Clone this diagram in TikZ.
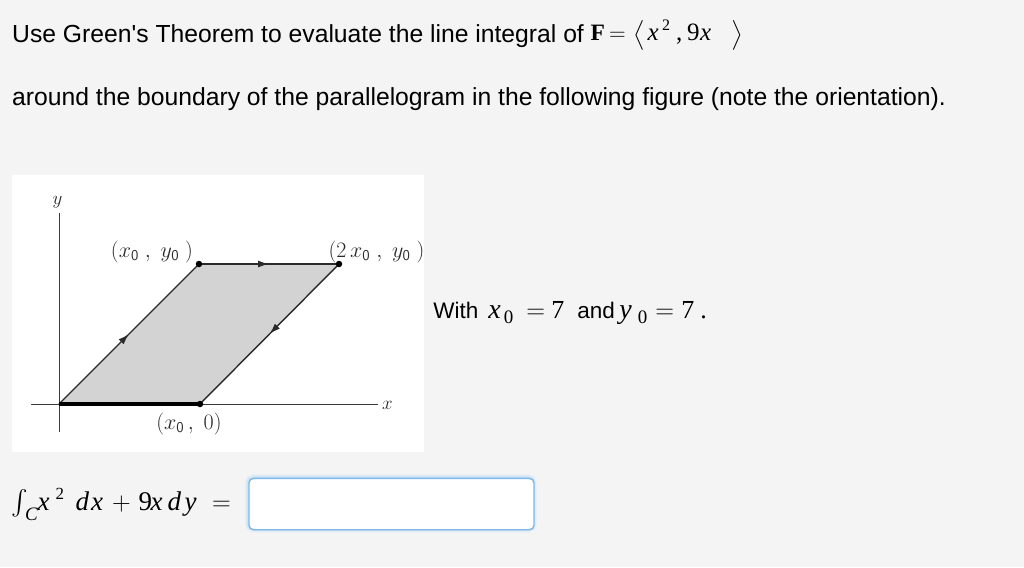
\RequirePackage{fix-cm}
\documentclass[tikz,border=0pt]{standalone}
\usepackage{exscale}
\usepackage{fontspec}
\setmainfont{Liberation Sans}[Ligatures=TeXOff]
\newfontfamily\tms{Liberation Serif}
\usetikzlibrary{arrows.meta,decorations.markings}
\definecolor{bg}{HTML}{F4F4F4}
\definecolor{regiongray}{HTML}{D3D3D4}
\definecolor{edgecol}{HTML}{2A2A2A}
\definecolor{axiscol}{HTML}{3A3A3A}
\definecolor{boxblue}{HTML}{7BB7EC}
\definecolor{glowblue}{HTML}{BFDDF7}
\newcommand\putat[2]{\makebox[0pt][l]{\hspace*{#1pt}#2}}
\newcommand\fs[1]{\fontsize{#1}{#1}\selectfont}
\newcommand\tit[2]{{\tms\itshape\fs{#1}#2}}
\newcommand\tup[2]{{\tms\fs{#1}#2}}
\newcommand\subz{\mbox{\fs{15}\sffamily 0}}
\tikzset{
  txt/.style={anchor=base west, inner sep=0pt, text=black},
  figlab/.style={inner sep=0pt, text=edgecol},
  edge/.style={draw=edgecol, line width=1.4pt},
  midarrow/.style={postaction={decorate, decoration={markings,
      mark=at position 0.5 with {\arrow{Latex[length=11pt,width=7pt]}}}}},
  dot/.style={circle, fill=black, inner sep=0pt, minimum size=6.5pt},
}
\begin{document}
\begin{tikzpicture}[x=1pt,y=-1pt]
\useasboundingbox (0,0) rectangle (1024,567);
\fill[bg] (0,0) rectangle (1024,567);

% text lines
\node[txt] (l1) at (12,42.5) {\fs{24.7}Use Green's Theorem to evaluate the line integral of};
\node[txt] (l1m) at (590,41) {%
  \putat{0}{\tup{23.5}{\bfseries F}}\putat{18.5}{\fs{23}$=$}\putat{43}{\fs{23}$\big\langle$}%
  \putat{57}{\tit{25}{x}}\putat{71.5}{\raisebox{10pt}{\tup{16}{2}}}\putat{85.5}{\tup{25}{,}}%
  \putat{96.5}{\tup{25}{9}}\putat{109.5}{\tit{25}{x}}\putat{141}{\fs{23}$\big\rangle$}};
\node[txt] (l2) at (12,106) {\fs{24.7}around the boundary of the parallelogram in the following figure (note the orientation).};

% figure panel
\fill[white] (11.7,175) rectangle (424.3,451.7);
\coordinate (O) at (59,404);
\coordinate (A) at (200,404);
\coordinate (B) at (339,264);
\coordinate (C) at (199,264);
\coordinate (xa0) at (31,404);
\coordinate (xa1) at (378,404);
\coordinate (ya0) at (59,432);
\coordinate (ya1) at (59,213);
\fill[regiongray] (O) -- (A) -- (B) -- (C) -- cycle;
\draw[axiscol, line width=1pt] (xa0) -- (xa1);
\draw[axiscol, line width=1pt] (ya0) -- (ya1);
\draw[edge, midarrow] (O) -- (C);
\draw[edge, midarrow] (C) -- (B);
\draw[edge, midarrow] (B) -- (A);
\draw[black, line width=4.5pt] (A) -- (O);
\node[dot] (dC) at (C) {};
\node[dot] (dB) at (B) {};
\node[dot] (dA) at (A) {};
\node[figlab] (ylab) at (57.5,202) {\fs{19}$y$};
\node[figlab] (xlab) at (387.5,405) {\fs{19}$x$};
\node[figlab] (lC) at (152,252) {\fs{22}$(x_{\subz}\;,\;y_{\subz}\;)$};
\node[figlab] (lB) at (376.5,252) {\fs{22}$(2\,x_{\subz}\;,\;y_{\subz}\;)$};
\node[figlab] (lA) at (189,424) {\fs{22}$(x_{\subz}\,,\;0)$};

% with line
\node[txt] (with) at (432.7,318.3) {%
  \putat{0}{\fs{22.5}With}\putat{55}{\tit{28}{x}}\putat{70.5}{\raisebox{-5pt}{\tup{19}{0}}}%
  \putat{93}{\fs{26}$=$}\putat{118}{\tup{26}{7}}\putat{144}{\fs{22.5}and}%
  \putat{186}{\tit{28}{y}}\putat{204.5}{\raisebox{-5pt}{\tup{19}{0}}}%
  \putat{222}{\fs{26}$=$}\putat{248}{\tup{26}{7}}\putat{267}{\tup{26}{.}}};

% integral line
\node[txt] (intl) at (12,510.7) {%
  \putat{-1}{\fs{29}$\int$}\putat{12.5}{\raisebox{-10pt}{\tit{19}{C}}}%
  \putat{25}{\tit{27}{x}}\putat{43}{\raisebox{11pt}{\tup{17}{2}}}%
  \putat{63}{\tit{27}{d}}\putat{78.5}{\tit{27}{x}}\putat{99.5}{\fs{26}$+$}%
  \putat{126}{\tup{27}{9}}\putat{138}{\tit{27}{x}}%
  \putat{155}{\tit{27}{d}}\putat{172}{\tit{27}{y}}\putat{199.5}{\fs{26}$=$}};

% answer box
\foreach \w/\o in {7/0.15,5/0.25,3.5/0.4}{
  \draw[glowblue, line width=\w pt, opacity=\o, rounded corners=5pt] (248.3,477.7) rectangle (533.3,529);
}
\node[draw=boxblue, fill=white, line width=1.4pt, rounded corners=4.5pt, minimum width=285pt, minimum height=51.3pt, inner sep=0pt, anchor=north west] (ansbox) at (248.3,477.7) {};
\end{tikzpicture}
\end{document}
